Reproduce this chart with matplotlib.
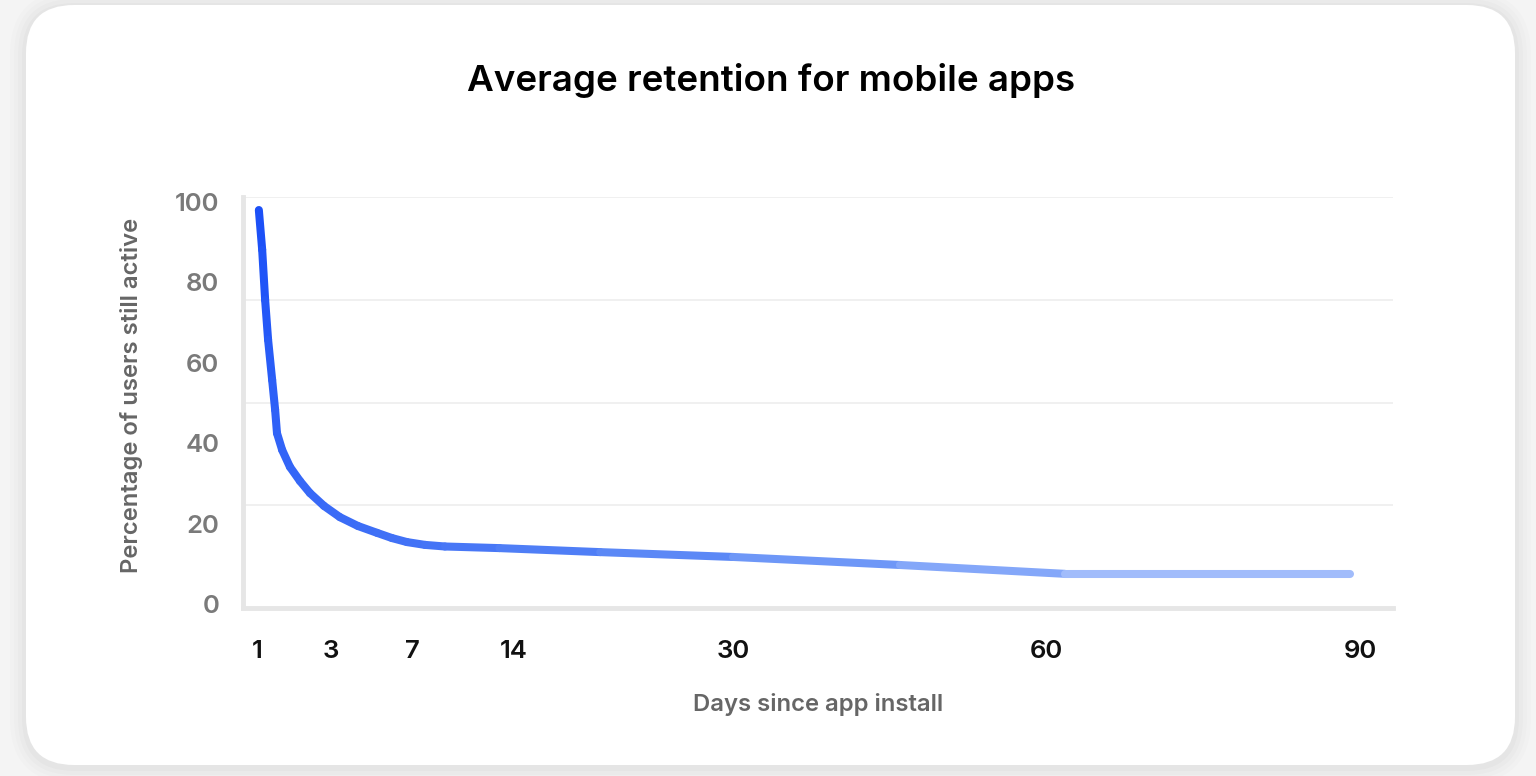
import numpy as np
import matplotlib.pyplot as plt
from matplotlib.collections import LineCollection
from matplotlib.patches import FancyBboxPatch
from matplotlib.colors import LinearSegmentedColormap

plt.rcParams['font.family'] = ['Inter', 'DejaVu Sans']

# datos
days = [1.05, 1.14, 1.22, 1.30, 1.41, 1.49, 1.54, 1.68, 1.89, 2.16, 2.43, 2.81, 3.44, 4.33, 5.27,
        6.01, 6.75, 7.89, 9.26, 13.0, 20.3, 30.0, 46.0, 61.8, 89.0]
retention = [98.0, 88.1, 75.6, 65.7, 55.7, 48.3, 42.5, 38.3, 34.1, 30.6, 27.6, 24.4, 21.6, 19.4, 17.7,
             16.4, 15.4, 14.7, 14.3, 13.9, 12.9, 11.7, 9.7, 7.5, 7.5]
tick_days = [1, 3, 7, 14, 30, 60, 90]
y_ticks = [0, 20, 40, 60, 80, 100]

# escala del eje x (no lineal, por tramos)
knot_days = np.array([-10.0, 1, 3, 7, 14, 30, 60, 90, 300])
knot_pos = np.array([257 - 11 * 37.0, 257, 331, 412, 514, 733, 1046, 1360, 1360 + 210 * 313 / 30])


def fwd(d):
    return np.interp(d, knot_days, knot_pos)


def inv(p):
    return np.interp(p, knot_pos, knot_days)


fig = plt.figure(figsize=(15.36, 7.76), dpi=100, facecolor='#f4f4f4')

# tarjeta blanca con sombra
for i, a in enumerate([0.012, 0.012, 0.015, 0.02]):
    grow = (4 - i) * 4
    sh = FancyBboxPatch((26 - grow, 5 - grow + 4), 1489 + 2 * grow, 760 + 2 * grow,
                        boxstyle='round,pad=0,rounding_size=%d' % (48 + grow),
                        transform=None, facecolor='black', edgecolor='none', alpha=a, zorder=-20)
    fig.patches.append(sh)
card = FancyBboxPatch((26, 11), 1489, 760, boxstyle='round,pad=0,rounding_size=48',
                      transform=None, facecolor='white', edgecolor='none', zorder=-10)
fig.patches.append(card)

W, H = 1536, 776
ax = fig.add_axes([243 / W, 1 - 608 / H, (1393 - 243) / W, (608 - 197) / H])
ax.set_facecolor('none')
ax.set_xscale('function', functions=(fwd, inv))
ax.set_xlim(inv(243), inv(1393))
ax.set_ylim(-1.0, 101.24)

# lineas de la grilla
for g in np.linspace(-1.0, 101.24, 5)[1:]:
    ax.axhline(g, color='#efefef', lw=1.3, zorder=0)

for s in ['top', 'right']:
    ax.spines[s].set_visible(False)
for s in ['left', 'bottom']:
    ax.spines[s].set_color('#e6e6e6')
    ax.spines[s].set_linewidth(3.5)

ax.set_xticks(tick_days)
ax.set_xticklabels([str(d) for d in tick_days])
ax.set_yticks(y_ticks)
ax.tick_params(axis='x', length=0, pad=23, labelsize=18.5, labelcolor='#111111')
ax.tick_params(axis='y', length=0, pad=17, labelsize=18.5, labelcolor='#7a7a7a')
for t in ax.get_xticklabels() + ax.get_yticklabels():
    t.set_fontweight('semibold')

ax.set_xlabel('Days since app install', fontsize=17.2, color='#666666', fontweight='semibold')
ax.set_ylabel('Percentage of users still active', fontsize=17.2, color='#666666', fontweight='semibold')
ax.xaxis.set_label_coords(0.5, -0.207)
ax.yaxis.set_label_coords(-0.087, 0.518)

# linea con degradado segun la longitud recorrida
pts = ax.transData.transform(np.column_stack([days, retention]))
seglen = np.hypot(np.diff(pts[:, 0]), np.diff(pts[:, 1]))
frac = (np.cumsum(seglen) - seglen / 2) / seglen.sum()
cmap = LinearSegmentedColormap.from_list('ret', ['#1a4ff7', '#5c89f6', '#b3cafc'])
xy = np.column_stack([days, retention])
segs = np.stack([xy[:-1], xy[1:]], axis=1)
lc = LineCollection(segs, colors=cmap(frac), linewidths=5.8, capstyle='round', joinstyle='round', zorder=3)
ax.add_collection(lc)

fig.text(771 / W, 1 - 80 / H, 'Average retention for mobile apps', ha='center', va='center',
         fontsize=26.5, fontweight='semibold', color='#000000')

fig.savefig('out.png', dpi=100, facecolor=fig.get_facecolor())
